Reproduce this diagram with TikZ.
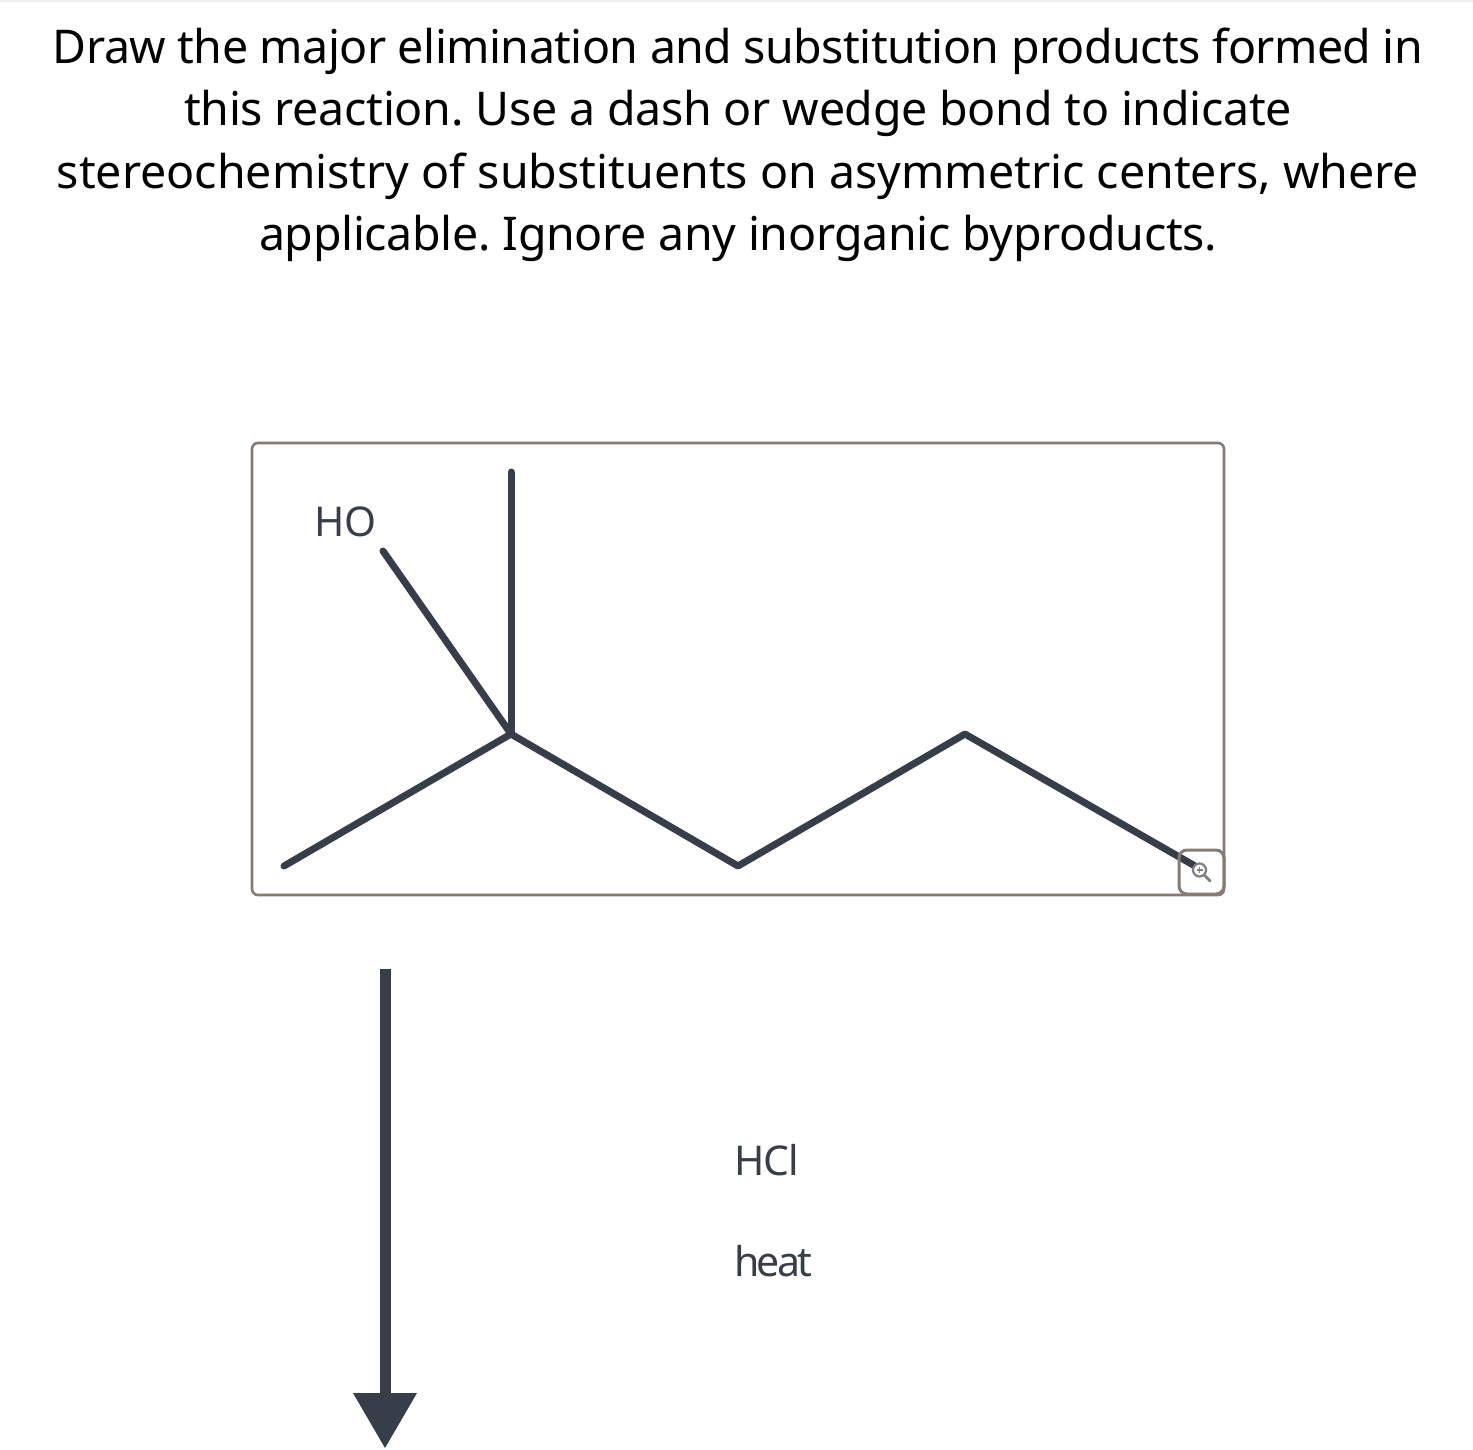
\documentclass[tikz,border=0pt]{standalone}
\usepackage{fontspec}
\setmainfont{Noto Sans}
\definecolor{ink}{HTML}{383D4A}
\definecolor{frame}{HTML}{857A76}
\definecolor{topbar}{HTML}{F0F0F0}
\newcommand{\trk}[1]{\addfontfeature{LetterSpace=#1}}
\tikzset{
  x=1pt,y=-1pt,
  bond/.style={draw=ink,line width=7pt,line cap=round,line join=round},
  titleline/.style={inner sep=0pt,anchor=base,text=black,font=\fontsize{46.5}{56}\selectfont},
  chemlabel/.style={inner sep=0pt,anchor=base west,text=ink,font=\fontsize{41}{48}\selectfont},
  framebox/.style={draw=frame,line width=2.6pt,rounded corners=6pt},
}
\begin{document}
\begin{tikzpicture}
\frenchspacing
\useasboundingbox (0,0) rectangle (1473,1450);
\fill[white] (0,0) rectangle (1473,1450);
\fill[topbar] (0,0) rectangle (1473,2);
\node[titleline] (t1) at (738,63.5) {\trk{-1.2}Draw the major elimination and substitution products formed in};
\node[titleline] (t2) at (738,125.5) {\trk{-0.6}this reaction. Use a dash or wedge bond to indicate};
\node[titleline] (t3) at (738,188.5) {\trk{0}stereochemistry of substituents on asymmetric centers, where};
\node[titleline] (t4) at (738,250.5) {\trk{-0.7}applicable. Ignore any inorganic byproducts.};
\node[framebox,minimum width=972pt,minimum height=452pt,inner sep=0pt] (mol) at (738,669) {};
\node[chemlabel] (ho) at (314,536) {HO};
\coordinate (hoend) at (383,551);
\coordinate (c) at (511,734);
\coordinate (me) at (511,472);
\coordinate (left) at (284,866);
\coordinate (c3) at (738,866);
\coordinate (c4) at (965,734);
\coordinate (c5) at (1195,866);
\draw[bond] (hoend) -- (c);
\draw[bond] (me) -- (c);
\draw[bond] (left) -- (c) -- (c3) -- (c4) -- (c5);
\node[draw=frame,line width=3pt,rounded corners=8pt,minimum width=45pt,minimum height=44pt,inner sep=0pt] (zoombtn) at (1201.5,872) {};
\node[circle,draw=gray,fill=white,line width=2.2pt,minimum size=13pt,inner sep=0pt] (lens) at (1199.5,870) {};
\coordinate (handle) at (1210,881);
\draw[gray,line width=2.8pt,line cap=round] (lens) -- (handle);
\draw[gray,line width=1.2pt] (1196.5,870) -- (1202.5,870) (1199.5,867) -- (1199.5,873);
\coordinate (arrowtop) at (385,969);
\coordinate (arrowneck) at (385,1394);
\draw[ink,line width=11pt] (arrowtop) -- (arrowneck);
\fill[ink] (353,1393) -- (417,1393) -- (385,1448) -- cycle;
\node[chemlabel] (hcl) at (734,1175) {\trk{-3}HCl};
\node[chemlabel] (heat) at (734,1276) {\trk{-6.5}heat};
\end{tikzpicture}
\end{document}
